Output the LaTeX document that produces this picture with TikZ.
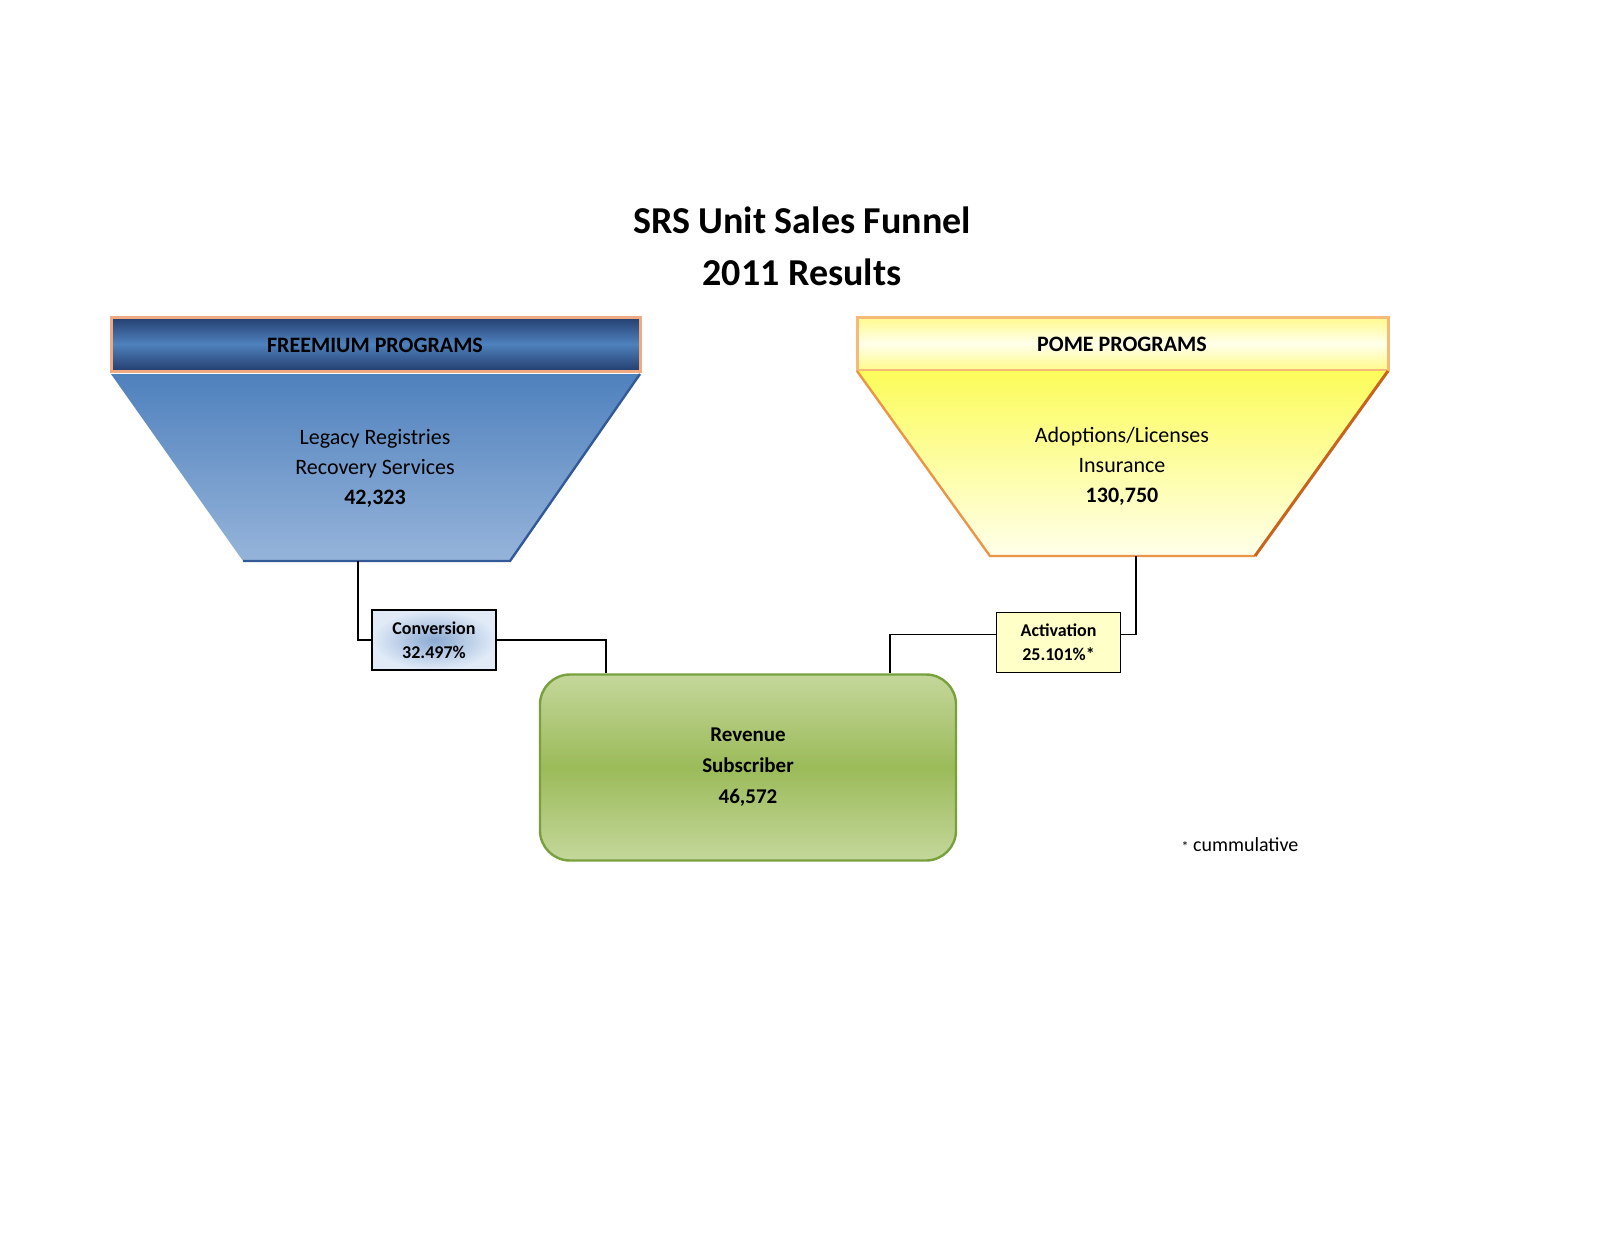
\documentclass[tikz,border=0pt]{standalone}
\usepackage{fontspec}
\setmainfont{Carlito}
\begin{document}
\begin{tikzpicture}[x=0.5pt,y=-0.5pt,
  conn/.style={draw=black,line width=0.7pt},
  lbl/.style={align=center,font=\fontsize{11}{15}\selectfont},
  hdr/.style={font=\bfseries\fontsize{11}{13}\selectfont},
  pct/.style={draw=black,line width=0.7pt,minimum width=62pt,minimum height=30pt,inner sep=0pt,align=center,font=\bfseries\fontsize{9}{12}\selectfont}]
\useasboundingbox (0,0) rectangle (1600,1236);
\node[font=\bfseries\fontsize{19}{26}\selectfont,align=center] (title) at (802,246) {SRS Unit Sales Funnel\\2011 Results};
% left funnel
\shade[top color={rgb,255:red,35;green,62;blue,110},bottom color={rgb,255:red,35;green,62;blue,110},middle color={rgb,255:red,79;green,129;blue,189}] (111,317) rectangle (640,371);
\draw[draw={rgb,255:red,240;green,170;blue,130},line width=1.5pt] (111,317) rectangle (640,371);
\node[hdr] (fh) at (375,345) {FREEMIUM PROGRAMS};
\shade[top color={rgb,255:red,79;green,129;blue,189},bottom color={rgb,255:red,150;green,180;blue,218}] (111,374) -- (640,374) -- (510,561) -- (243,561) -- cycle;
\draw[draw={rgb,255:red,50;green,90;blue,150},line width=1.2pt] (640,374) -- (510,561) -- (243,561);
\node[lbl] (ft) at (375,468) {Legacy Registries\\Recovery Services\\\textbf{42,323}};
\coordinate (fb) at (358,561);
% right funnel
\shade[top color={rgb,255:red,255;green,250;blue,140},bottom color={rgb,255:red,255;green,250;blue,140},middle color={rgb,255:red,255;green,255;blue,235}] (857,317) rectangle (1388,370);
\draw[draw={rgb,255:red,245;green,185;blue,120},line width=1.5pt] (857,317) rectangle (1388,370);
\node[hdr] (ph) at (1122,344) {POME PROGRAMS};
\shade[top color={rgb,255:red,252;green,252;blue,90},bottom color={rgb,255:red,255;green,255;blue,235}] (857,371) -- (1388,371) -- (1255,556) -- (990,556) -- cycle;
\draw[draw={rgb,255:red,235;green,150;blue,70},line width=1.2pt] (857,371) -- (990,556) -- (1255,556);
\draw[draw={rgb,255:red,200;green,100;blue,30},line width=1.5pt] (1388,371) -- (1255,556);
\node[lbl] (pt) at (1122,466) {Adoptions/Licenses\\Insurance\\\textbf{130,750}};
\coordinate (pb) at (1136,556);
% green box
\node[draw={rgb,255:red,120;green,160;blue,60},line width=1.2pt,rounded corners=15pt,minimum width=208pt,minimum height=93pt,
  top color={rgb,255:red,196;green,215;blue,155},bottom color={rgb,255:red,196;green,215;blue,155},middle color={rgb,255:red,155;green,187;blue,89},
  align=center,font=\bfseries\fontsize{10.5}{15.5}\selectfont] (rev) at (748,767.5) {Revenue\\Subscriber\\46,572};
\node[pct,inner color={rgb,255:red,140;green,170;blue,210},outer color={rgb,255:red,225;green,235;blue,248}] (conv) at (434,640) {Conversion\\32.497\%};
\node[pct,fill={rgb,255:red,255;green,255;blue,200}] (act) at (1058.5,642.5) {Activation\\25.101\%*};
% connectors
\draw[conn] (fb) |- (conv.west);
\draw[conn] (conv.east) -| ([xshift=-71pt]rev.north);
\draw[conn] (pb) |- ([yshift=4pt]act.east);
\draw[conn] ([yshift=4pt]act.west) -| ([xshift=71pt]rev.north);
\node[font=\fontsize{10}{12}\selectfont] (note) at (1240,845) {{\fontsize{7}{8}\selectfont *} cummulative};
\end{tikzpicture}
\end{document}
